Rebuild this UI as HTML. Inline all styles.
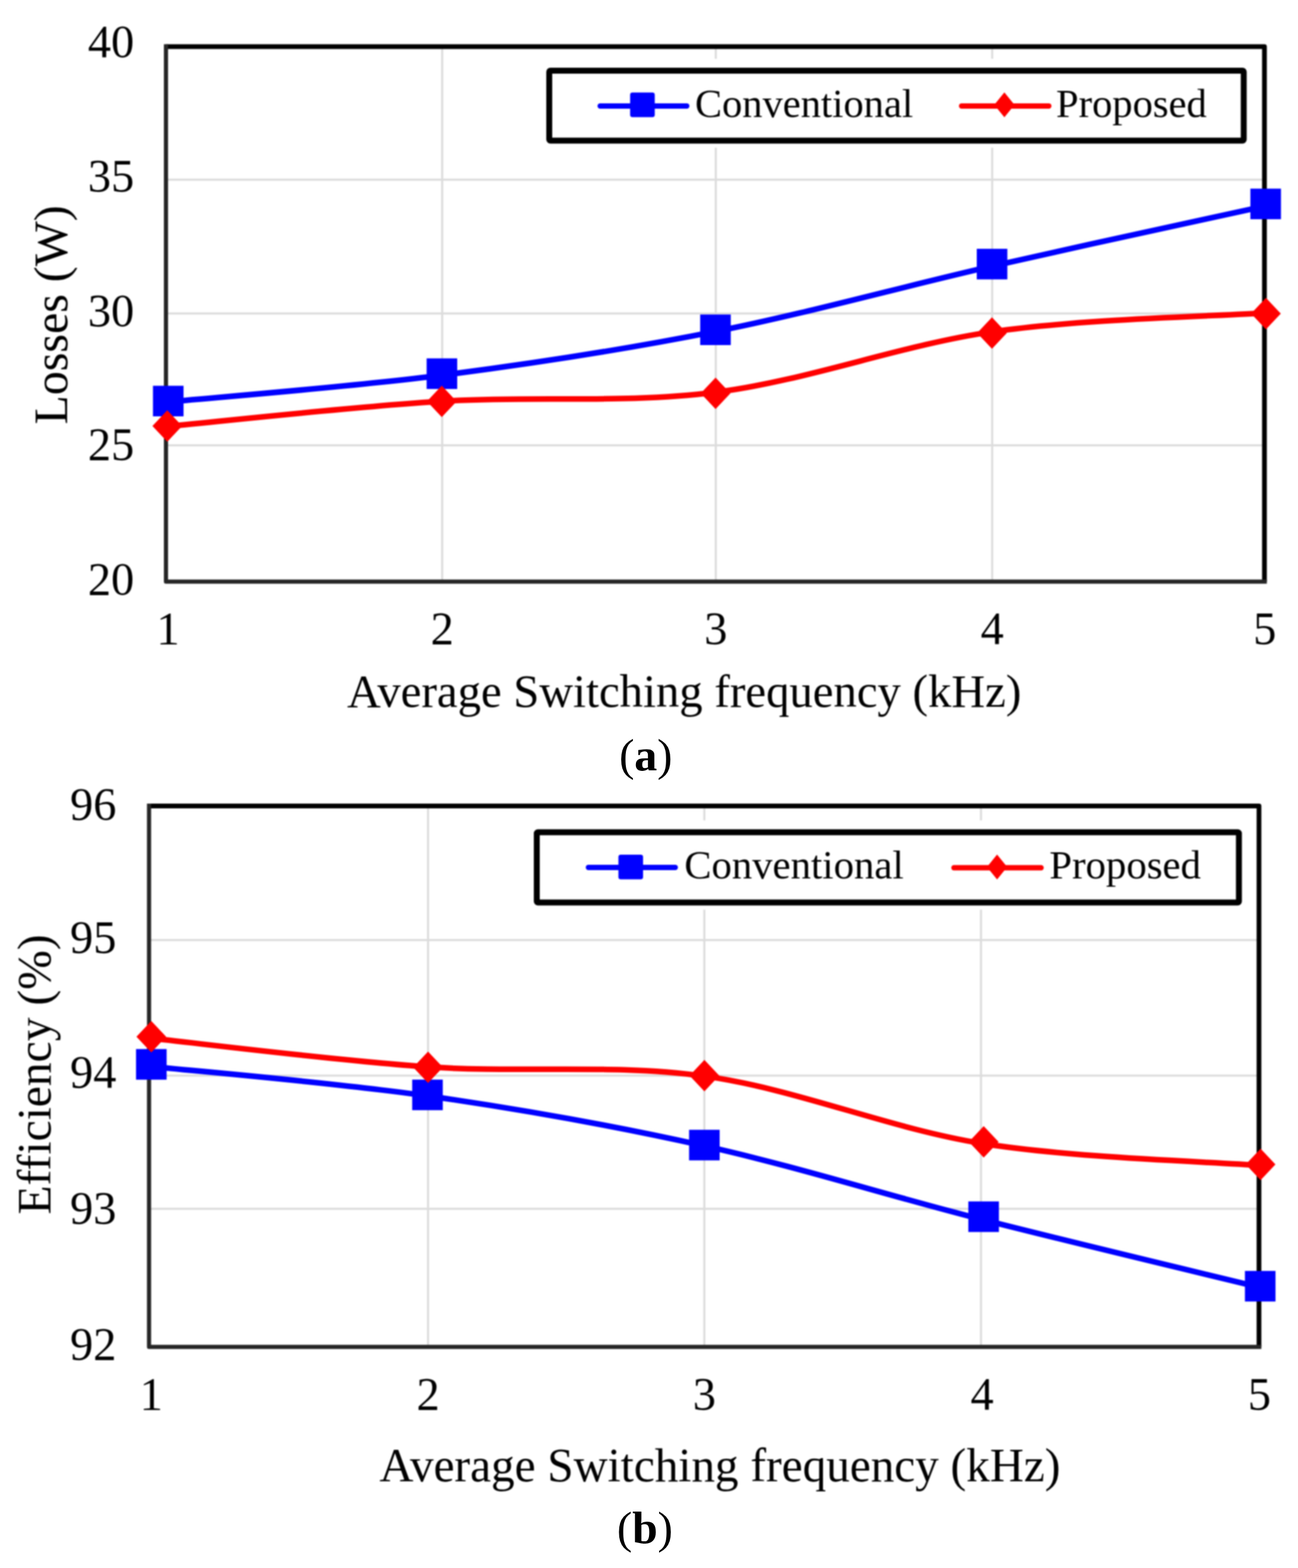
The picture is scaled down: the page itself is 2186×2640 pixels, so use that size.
<!DOCTYPE html>
<html><head><meta charset="utf-8"><title>Losses and Efficiency vs Average Switching Frequency</title>
<style>
html,body{margin:0;padding:0;background:#fff;}
body{width:2186px;height:2640px;overflow:hidden;position:relative;}
svg{display:block;position:absolute;left:0;top:0;}
#chart{filter:blur(1px);}
text{font-family:"Liberation Serif", "Times New Roman", serif;}
</style></head>
<body>
<svg id="chart" width="2186" height="2640" viewBox="0 0 2186 2640">
<rect width="2186" height="2640" fill="#fff"/>
<line x1="279.5" y1="302.5" x2="2129.5" y2="302.5" stroke="#dcdcdc" stroke-width="3.5"/>
<line x1="279.5" y1="527.8" x2="2129.5" y2="527.8" stroke="#dcdcdc" stroke-width="3.5"/>
<line x1="279.5" y1="749.8" x2="2129.5" y2="749.8" stroke="#dcdcdc" stroke-width="3.5"/>
<line x1="744.7" y1="78.5" x2="744.7" y2="979.3" stroke="#dcdcdc" stroke-width="3.5"/>
<line x1="1205.5" y1="78.5" x2="1205.5" y2="979.3" stroke="#dcdcdc" stroke-width="3.5"/>
<line x1="1671" y1="78.5" x2="1671" y2="979.3" stroke="#dcdcdc" stroke-width="3.5"/>
<path d="M279.5,78.5 H2129.5 V979.3" fill="none" stroke="#000" stroke-width="8" stroke-linejoin="round"/>
<path d="M279.5,74.5 V979.3 H2133.5" fill="none" stroke="#262626" stroke-width="7" stroke-linejoin="round"/>
<rect x="917" y="99" width="1185.6" height="149.7" fill="#fff"/>
<rect x="925" y="119" width="1169.6" height="117.69999999999999" fill="#fff" stroke="#000" stroke-width="10" rx="2"/>
<path d="M279.5,677.0 C356.9,669.5 589.7,651.6 744.0,631.8 C898.3,612.0 1050.6,588.7 1205.1,558.1 C1359.6,527.5 1517.0,483.3 1671.0,448.2 C1825.0,413.1 2052.8,364.1 2129.1,347.3" fill="none" stroke="#0000ff" stroke-width="9.5" stroke-linejoin="round"/>
<path d="M279.5,718.2 C356.9,711.1 589.7,685.2 744.0,675.6 C898.3,666.0 1050.6,680.0 1205.1,660.5 C1359.6,641.0 1517.0,580.9 1671.0,558.6 C1825.0,536.4 2052.8,532.3 2129.1,527.0" fill="none" stroke="#ff0000" stroke-width="9.5" stroke-linejoin="round"/>
<rect x="257.6" y="649.5" width="51.5" height="51.5" fill="#0000ff"/>
<rect x="718.5" y="603.4" width="51.5" height="51.5" fill="#0000ff"/>
<rect x="1179.2" y="529.5" width="51.5" height="51.5" fill="#0000ff"/>
<rect x="1645.0" y="418.9" width="51.5" height="51.5" fill="#0000ff"/>
<rect x="2105.8" y="317.6" width="51.5" height="51.5" fill="#0000ff"/>
<polygon points="281.7,690.8 306.7,717.3 281.7,743.8 256.7,717.3" fill="#ff0000"/>
<polygon points="744.0,649.3 769.0,675.8 744.0,702.3 719.0,675.8" fill="#ff0000"/>
<polygon points="1205.1,635.7 1230.1,662.2 1205.1,688.7 1180.1,662.2" fill="#ff0000"/>
<polygon points="1670.6,534.2 1695.6,560.7 1670.6,587.2 1645.6,560.7" fill="#ff0000"/>
<polygon points="2132.0,501.5 2157.0,528.0 2132.0,554.5 2107.0,528.0" fill="#ff0000"/>
<line x1="1010.8" y1="178.5" x2="1156.6" y2="178.5" stroke="#0000ff" stroke-width="9" stroke-linecap="round"/>
<rect x="1061.2" y="155.8" width="41.5" height="41.5" rx="4" fill="#0000ff"/>
<text x="1170.5" y="196.8" font-size="68.2" fill="#000">Conventional</text>
<line x1="1619.5" y1="178.5" x2="1766.3" y2="178.5" stroke="#ff0000" stroke-width="9" stroke-linecap="round"/>
<polygon points="1691.5,155.6 1708.5,176.6 1691.5,197.6 1674.5,176.6" fill="#ff0000"/>
<text x="1778.6" y="196.6" font-size="68.2" fill="#000">Proposed</text>
<text x="226" y="95.8" font-size="78" text-anchor="end" fill="#000">40</text>
<text x="226" y="322.2" font-size="78" text-anchor="end" fill="#000">35</text>
<text x="226" y="548.6" font-size="78" text-anchor="end" fill="#000">30</text>
<text x="226" y="774" font-size="78" text-anchor="end" fill="#000">25</text>
<text x="226" y="1001.2" font-size="78" text-anchor="end" fill="#000">20</text>
<text x="283" y="1084" font-size="78" text-anchor="middle" fill="#000">1</text>
<text x="744.7" y="1084" font-size="78" text-anchor="middle" fill="#000">2</text>
<text x="1205.5" y="1084" font-size="78" text-anchor="middle" fill="#000">3</text>
<text x="1671" y="1084" font-size="78" text-anchor="middle" fill="#000">4</text>
<text x="2130" y="1084" font-size="78" text-anchor="middle" fill="#000">5</text>
<text x="584.6" y="1190.4" font-size="78.6" fill="#000">Average Switching frequency (kHz)</text>
<text transform="translate(113,530) rotate(-90)" x="0" y="0" font-size="80.5" text-anchor="middle" fill="#000">Losses (W)</text>
<line x1="251" y1="1582.8" x2="2120.3" y2="1582.8" stroke="#dcdcdc" stroke-width="3.5"/>
<line x1="251" y1="1811" x2="2120.3" y2="1811" stroke="#dcdcdc" stroke-width="3.5"/>
<line x1="251" y1="2035.2" x2="2120.3" y2="2035.2" stroke="#dcdcdc" stroke-width="3.5"/>
<line x1="720.9" y1="1357" x2="720.9" y2="2267.8" stroke="#dcdcdc" stroke-width="3.5"/>
<line x1="1186.2" y1="1357" x2="1186.2" y2="2267.8" stroke="#dcdcdc" stroke-width="3.5"/>
<line x1="1652.1" y1="1357" x2="1652.1" y2="2267.8" stroke="#dcdcdc" stroke-width="3.5"/>
<path d="M251,1357 H2120.3 V2267.8" fill="none" stroke="#000" stroke-width="8" stroke-linejoin="round"/>
<path d="M251,1353 V2267.8 H2124.3" fill="none" stroke="#262626" stroke-width="7" stroke-linejoin="round"/>
<rect x="896" y="1381.3" width="1198.5" height="150.20000000000005" fill="#fff"/>
<rect x="904" y="1401.3" width="1182.5" height="118.20000000000005" fill="#fff" stroke="#000" stroke-width="10" rx="2"/>
<path d="M250.8,1795.2 C329.1,1803.5 565.0,1822.8 720.9,1845.2 C876.8,1867.6 1031.2,1894.8 1186.5,1929.4 C1341.8,1964.0 1497.0,2013.3 1652.6,2052.9 C1808.1,2092.5 2041.9,2148.1 2119.8,2167.1" fill="none" stroke="#0000ff" stroke-width="9.5" stroke-linejoin="round"/>
<path d="M250.8,1747.8 C329.1,1755.9 565.0,1785.6 720.9,1796.3 C876.8,1807.0 1031.2,1790.5 1186.5,1811.9 C1341.8,1833.4 1497.0,1900.0 1652.6,1925.0 C1808.1,1950.0 2041.9,1955.9 2119.8,1962.1" fill="none" stroke="#ff0000" stroke-width="9.5" stroke-linejoin="round"/>
<rect x="229.1" y="1766.3" width="51.5" height="51.5" fill="#0000ff"/>
<rect x="694.2" y="1817.7" width="51.5" height="51.5" fill="#0000ff"/>
<rect x="1160.5" y="1902.2" width="51.5" height="51.5" fill="#0000ff"/>
<rect x="1630.8" y="2022.8" width="51.5" height="51.5" fill="#0000ff"/>
<rect x="2096.6" y="2139.8" width="51.5" height="51.5" fill="#0000ff"/>
<polygon points="254.8,1718.9 279.8,1745.4 254.8,1771.9 229.8,1745.4" fill="#ff0000"/>
<polygon points="720.9,1770.5 745.9,1797.0 720.9,1823.5 695.9,1797.0" fill="#ff0000"/>
<polygon points="1186.3,1784.4 1211.3,1810.9 1186.3,1837.4 1161.3,1810.9" fill="#ff0000"/>
<polygon points="1656.7,1896.0 1681.7,1922.5 1656.7,1949.0 1631.7,1922.5" fill="#ff0000"/>
<polygon points="2123.0,1934.1 2148.0,1960.6 2123.0,1987.1 2098.0,1960.6" fill="#ff0000"/>
<line x1="991" y1="1460.5" x2="1137.2" y2="1460.5" stroke="#0000ff" stroke-width="9" stroke-linecap="round"/>
<rect x="1041.5" y="1439.0" width="41.5" height="41.5" rx="4" fill="#0000ff"/>
<text x="1152.4" y="1479.2" font-size="68.6" fill="#000">Conventional</text>
<line x1="1606.6" y1="1461" x2="1753.3" y2="1461" stroke="#ff0000" stroke-width="9" stroke-linecap="round"/>
<polygon points="1679.2,1438.7 1696.2,1459.7 1679.2,1480.7 1662.2,1459.7" fill="#ff0000"/>
<text x="1767.3" y="1479.2" font-size="68.6" fill="#000">Proposed</text>
<text x="196" y="1379.5" font-size="78" text-anchor="end" fill="#000">96</text>
<text x="196" y="1604.3" font-size="78" text-anchor="end" fill="#000">95</text>
<text x="196" y="1830.9" font-size="78" text-anchor="end" fill="#000">94</text>
<text x="196" y="2059.7" font-size="78" text-anchor="end" fill="#000">93</text>
<text x="196" y="2289.4" font-size="78" text-anchor="end" fill="#000">92</text>
<text x="254.7" y="2373" font-size="78" text-anchor="middle" fill="#000">1</text>
<text x="720.9" y="2373" font-size="78" text-anchor="middle" fill="#000">2</text>
<text x="1186.2" y="2373" font-size="78" text-anchor="middle" fill="#000">3</text>
<text x="1654" y="2373" font-size="78" text-anchor="middle" fill="#000">4</text>
<text x="2121" y="2373" font-size="78" text-anchor="middle" fill="#000">5</text>
<text x="639" y="2494.3" font-size="79.4" fill="#000">Average Switching frequency (kHz)</text>
<text transform="translate(84.5,1809) rotate(-90)" x="0" y="0" font-size="80" text-anchor="middle" fill="#000">Efficiency (%)</text>
</svg>
<svg width="2186" height="2640" viewBox="0 0 2186 2640">
<text x="1042.7" y="1296.5" font-size="77" fill="#000">(<tspan font-weight="bold">a</tspan>)</text>
<text x="1039" y="2597.5" font-size="77" fill="#000">(<tspan font-weight="bold">b</tspan>)</text>
</svg>
</body></html>
